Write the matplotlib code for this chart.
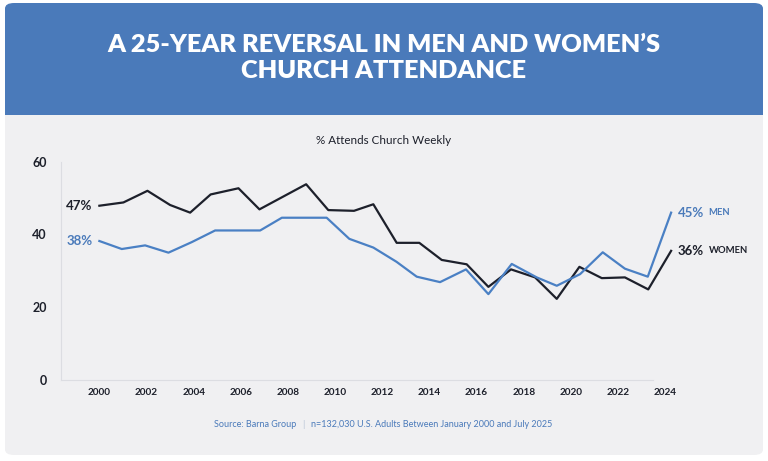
import matplotlib.pyplot as plt
from matplotlib.patches import FancyBboxPatch, Rectangle

plt.rcParams['font.family'] = ['Lato', 'DejaVu Sans']

# survey points (decimal year, % attending weekly)
women_years = [2000.0, 2001.02, 2002.04, 2003.0, 2003.85, 2004.72, 2005.9, 2006.79,
               2008.77, 2009.71, 2010.8, 2011.62, 2012.61, 2013.57, 2014.52, 2015.58,
               2016.5, 2017.46, 2018.48, 2019.4, 2020.36, 2021.31, 2022.29, 2023.28, 2024.25]
women = [47.9, 48.8, 52.0, 48.1, 46.0, 51.0, 52.7, 46.9,
         53.8, 46.7, 46.5, 48.3, 37.7, 37.7, 33.0, 31.8,
         25.6, 30.4, 28.2, 22.3, 31.1, 28.0, 28.2, 24.9, 35.5]

men_years = [2000.0, 2000.95, 2001.94, 2002.93, 2003.92, 2004.91, 2005.97, 2006.82,
             2007.74, 2009.64, 2010.6, 2011.62, 2012.6, 2013.46, 2014.45, 2015.55,
             2016.5, 2017.49, 2018.55, 2019.4, 2020.39, 2021.35, 2022.29, 2023.26, 2024.25]
men = [38.2, 36.0, 37.0, 35.0, 37.9, 41.1, 41.1, 41.1,
       44.6, 44.6, 38.8, 36.4, 32.5, 28.4, 26.9, 30.4,
       23.6, 31.9, 28.2, 25.9, 29.1, 35.1, 30.6, 28.4, 46.0]

xticks = list(range(2000, 2025, 2))
yticks = [0, 20, 40, 60]

BLUE = '#4a7aba'
LINE_BLUE = '#4a80c4'
DARK = '#1d202b'
BODY = '#f0f0f2'

W, H = 768, 461
fig = plt.figure(figsize=(W / 100, H / 100), dpi=100)
fig.patch.set_facecolor('white')

def fx(x):
    return x / W

def fy(y):
    return 1 - y / H

# card: grey body + blue header
fig.patches.append(FancyBboxPatch((fx(5), fy(455)), fx(758), (450) / H,
                                  boxstyle='round,pad=0,rounding_size=0.012',
                                  transform=fig.transFigure, facecolor=BODY,
                                  edgecolor='none', zorder=-3))
fig.patches.append(FancyBboxPatch((fx(5), fy(115)), fx(758), 112 / H,
                                  boxstyle='round,pad=0,rounding_size=0.012',
                                  transform=fig.transFigure, facecolor=BLUE,
                                  edgecolor='none', zorder=-2))
fig.patches.append(Rectangle((fx(5), fy(115)), fx(758), 20 / H,
                             transform=fig.transFigure, facecolor=BLUE,
                             edgecolor='none', zorder=-2))

fig.text(0.5, fy(58), "A 25-YEAR REVERSAL IN MEN AND WOMEN\u2019S\nCHURCH ATTENDANCE",
         ha='center', va='center', color='white', fontsize=18.3, fontweight='heavy',
         linespacing=1.25)

fig.text(0.5, fy(141), '% Attends Church Weekly', ha='center', va='center',
         color=DARK, fontsize=8.4)

fig.text(fx(296), fy(424), 'Source: Barna Group', ha='right', va='center',
         color=BLUE, fontsize=6.5)
fig.text(fx(303), fy(424), '|', ha='center', va='center', color='#b8c4d6', fontsize=6.5)
fig.text(fx(311), fy(424), 'n=132,030 U.S. Adults Between January 2000 and July 2025',
         ha='left', va='center', color=BLUE, fontsize=6.5)

# axes: 0 at y=380px, 60 at y=161.7px; 2000 at x=99.3px, 23.58px per year
x0 = 1998.36
x1 = 2025.5
left = fx(60.7)
right = fx(99.3 + (x1 - 2000) * 23.58)
ax = fig.add_axes([left, fy(380), right - left, (380 - 161.7) / H])
ax.set_facecolor('none')
ax.set_xlim(x0, x1)
ax.set_ylim(0, 60)

ax.plot(women_years, women, color=DARK, lw=1.6, clip_on=False, zorder=3)
ax.plot(men_years, men, color=LINE_BLUE, lw=1.6, clip_on=False, zorder=4)

for s in ['top', 'right']:
    ax.spines[s].set_visible(False)
for s in ['left', 'bottom']:
    ax.spines[s].set_color('#dcdde2')
    ax.spines[s].set_linewidth(0.8)
ax.spines['bottom'].set_bounds(x0, 2023.47)

ax.set_xticks(xticks)
ax.set_xticklabels([str(t) for t in xticks], fontsize=7.2, fontweight='bold', color=DARK)
ax.set_yticks(yticks)
ax.set_yticklabels([str(t) for t in yticks], fontsize=9, fontweight='bold', color=DARK)
ax.tick_params(axis='both', length=0)
ax.tick_params(axis='x', pad=6)
ax.tick_params(axis='y', pad=10)

# start and end labels
ax.annotate('47%', (women_years[0], women[0]), xytext=(-5, 0), textcoords='offset points',
            ha='right', va='center', color=DARK, fontsize=9.5, fontweight='bold')
ax.annotate('38%', (men_years[0], men[0]), xytext=(-5, 0), textcoords='offset points',
            ha='right', va='center', color=BLUE, fontsize=9.5, fontweight='bold')
ax.annotate('45%', (men_years[-1], men[-1]), xytext=(5, 0), textcoords='offset points',
            ha='left', va='center', color=BLUE, fontsize=9.5, fontweight='bold',
            annotation_clip=False)
ax.annotate('MEN', (men_years[-1], men[-1]), xytext=(27, 0), textcoords='offset points',
            ha='left', va='center', color=BLUE, fontsize=6.8, fontweight='bold',
            annotation_clip=False)
ax.annotate('36%', (women_years[-1], women[-1]), xytext=(5, 0), textcoords='offset points',
            ha='left', va='center', color=DARK, fontsize=9.5, fontweight='bold',
            annotation_clip=False)
ax.annotate('WOMEN', (women_years[-1], women[-1]), xytext=(27, 0), textcoords='offset points',
            ha='left', va='center', color=DARK, fontsize=6.8, fontweight='bold',
            annotation_clip=False)

fig.savefig('out.png', dpi=100, facecolor=fig.get_facecolor())
